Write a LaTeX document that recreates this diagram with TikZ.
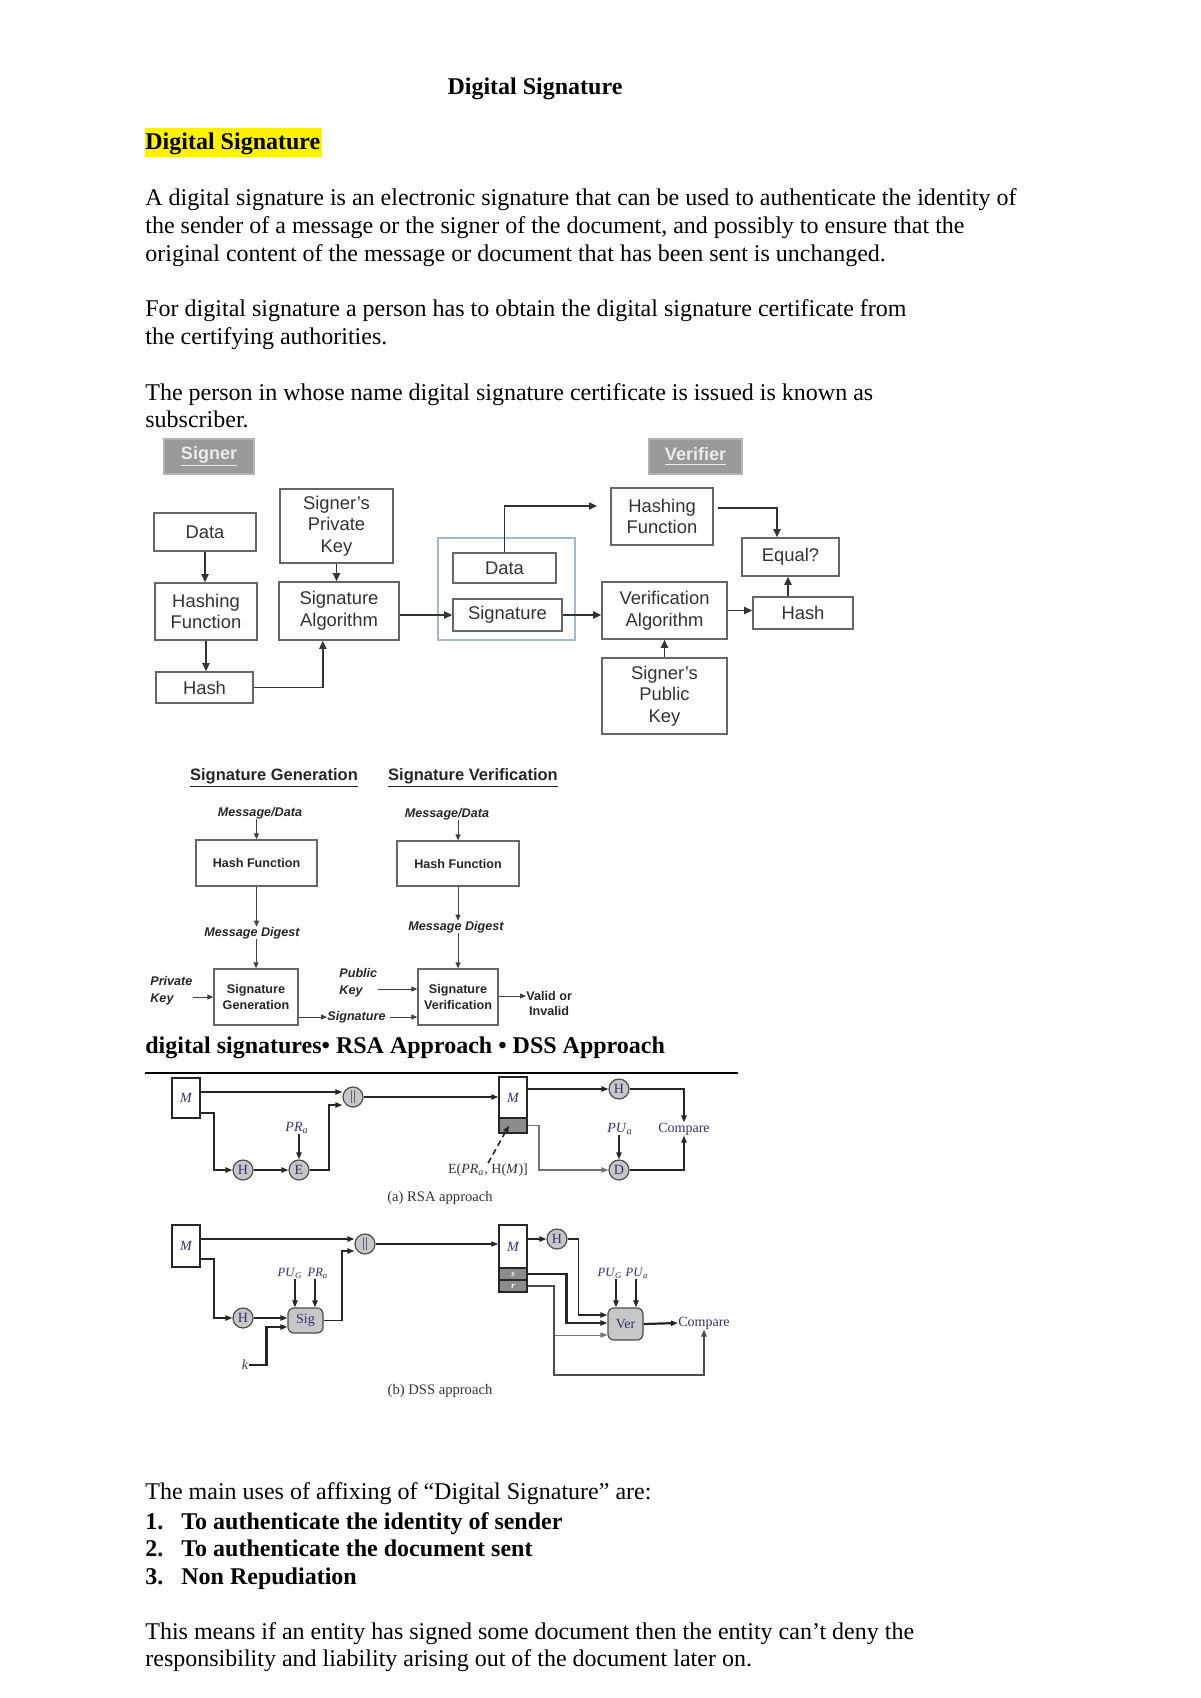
\documentclass[tikz,border=0pt]{standalone}
\usepackage{fontspec}
\setmainfont{Liberation Serif}
\setsansfont{Liberation Sans}
\usetikzlibrary{arrows.meta,calc}
\newcommand{\fs}[2]{\fontsize{#1}{#2}\selectfont}
\newcommand{\ksub}[2]{\textit{#1}\textsubscript{\textit{#2}}}
\definecolor{lblue}{RGB}{50,50,110}
\definecolor{cont}{RGB}{160,185,205}
\begin{document}
\begin{tikzpicture}[x=0.5pt,y=-0.5pt,
  body/.style={anchor=base west, inner sep=0pt, font=\fs{12}{14}},
  bodyb/.style={anchor=base west, inner sep=0pt, font=\fs{12}{14}\bfseries},
  dbox/.style={draw=black!60, line width=0.8pt, fill=white, font=\sffamily\fs{9.2}{10.8}, text=black!80, align=center, inner sep=0pt},
  dhead/.style={fill=black!40, draw=black!30, line width=0.6pt, font=\sffamily\bfseries\fs{9}{10}, text=black!8, inner sep=0pt},
  darr/.style={-{Triangle[length=4pt,width=3.6pt]}, line width=0.8pt, draw=black!80},
  sbox/.style={draw=black!60, line width=0.7pt, font=\sffamily\bfseries\fs{6.3}{8.3}, text=black!85, align=center, inner sep=0pt},
  slab/.style={font=\sffamily\bfseries\itshape\fs{6.3}{8.3}, text=black!85, inner sep=0pt},
  sarr/.style={-{Triangle[length=3pt,width=2.5pt]}, line width=0.5pt, draw=black!75},
  rbox/.style={draw=black!85, line width=0.7pt, fill=white, inner sep=0pt, font=\fs{7}{8}\itshape, text=lblue},
  rcirc/.style={circle, draw=black!70, line width=0.6pt, fill=black!22, inner sep=0pt, minimum size=10pt, font=\fs{7}{8}, text=lblue},
  rsq/.style={rectangle, rounded corners=3pt, draw=black!70, line width=0.6pt, fill=black!22, inner sep=0pt, font=\fs{7}{8}, text=lblue},
  rlab/.style={inner sep=0pt, font=\fs{7}{8}, text=lblue},
  klab/.style={inner sep=0pt, font=\fs{6.3}{8}, text=lblue},
  rarr/.style={-{Triangle[length=3.5pt,width=2.6pt]}, line width=0.8pt, draw=black!85},
]
\useasboundingbox (0,0) rectangle (1200,1698);
\fill[white] (0,0) rectangle (1200,1698);

% ---------- text top ----------
\node[font=\fs{12}{14}\bfseries, anchor=base, inner sep=0pt] (title) at (535,94) {Digital Signature};
\fill[yellow] (145,128) rectangle (322,157);
\node[bodyb] (head) at (145,149) {Digital Signature};
\node[body] (p1a) at (145,205) {A digital signature is an electronic signature that can be used to authenticate the identity of};
\node[body] (p1b) at (145,233) {the sender of a message or the signer of the document, and possibly to ensure that the};
\node[body] (p1c) at (145,261) {original content of the message or document that has been sent is unchanged.};
\node[body] (p2a) at (145,316) {For digital signature a person has to obtain the digital signature certificate from};
\node[body] (p2b) at (145,344) {the certifying authorities.};
\node[body] (p3a) at (145,400) {The person in whose name digital signature certificate is issued is known as};
\node[body] (p3b) at (145,427) {subscriber.};

% ---------- diagram 1 ----------
\node[dhead, minimum width=45pt, minimum height=17.5pt] (signer) at (209,456.5) {\underline{Signer}};
\node[dhead, minimum width=46.5pt, minimum height=17.5pt] (verifier) at (695.5,456.5) {\underline{Verifier}};
\node[dbox, minimum width=51pt, minimum height=19pt] (data1) at (205,532) {Data};
\node[dbox, minimum width=51pt, minimum height=28.5pt] (hf1) at (206,611.5) {Hashing\\Function};
\node[dbox, minimum width=48.5pt, minimum height=15.5pt] (hs1) at (204.5,687.5) {Hash};
\node[dbox, minimum width=56.5pt, minimum height=37pt] (pk) at (336.5,526) {Signer's\\Private\\Key};
\node[dbox, minimum width=60pt, minimum height=29pt] (sa) at (339,611) {Signature\\Algorithm};
\node[draw=cont, line width=0.8pt, minimum width=68.5pt, minimum height=51pt, inner sep=0pt] (cont) at (506.5,589) {};
\node[dbox, minimum width=51.5pt, minimum height=15pt] (data2) at (504.5,568) {Data};
\node[dbox, minimum width=54.5pt, minimum height=16pt] (sig2) at (507.5,615) {Signature};
\node[dbox, minimum width=51pt, minimum height=28.5pt] (hf2) at (662,516.5) {Hashing\\Function};
\node[dbox, minimum width=48.5pt, minimum height=19pt] (eq) at (790.5,557) {Equal?};
\node[dbox, minimum width=62.5pt, minimum height=28.5pt] (va) at (664.5,610.5) {Verification\\Algorithm};
\node[dbox, minimum width=50pt, minimum height=16pt] (hs2) at (803,613) {Hash};
\node[dbox, minimum width=62.5pt, minimum height=38pt] (pub) at (664.5,696) {Signer's\\Public\\Key};

\draw[darr] (data1.south) -- (data1.south |- hf1.north);
\draw[darr] (hf1.south) -- (hf1.south |- hs1.north);
\draw[darr] (hs1.east) -| ($(sa.south west)!0.367!(sa.south east)$);
\draw[darr] (pk.south) -- (pk.south |- sa.north);
\draw[darr] (sig2.west -| sa.east) -- (sig2.west);
\coordinate (d2end) at (597,506);
\draw[darr] (data2.north) |- (d2end);
\draw[darr] (sig2.east) -- (sig2.east -| va.west);
\draw[darr] ($(hf2.east)+(4,-8.5)$) -| ($(eq.north)+(-13.5,0)$);
\draw[darr] (va.east) -- (va.east -| hs2.west);
\coordinate (h2top) at ($(hs2.north)+(-15,0)$);
\draw[darr] (h2top) -- (h2top |- eq.south);
\draw[darr] (pub.north) -- (pub.north |- va.south);

% ---------- diagram 2 ----------
\node[font=\sffamily\bfseries\fs{8.25}{10}, text=black!85, inner sep=0pt] (sgh) at (274,778) {\underline{Signature Generation}};
\node[font=\sffamily\bfseries\fs{8.25}{10}, text=black!85, inner sep=0pt] (svh) at (473,778) {\underline{Signature Verification}};
\node[slab] (m1) at (260,813) {Message/Data};
\node[sbox, minimum width=60.5pt, minimum height=23pt] (sh1) at (256.5,863) {Hash Function};
\node[slab] (md1) at (252,933) {Message Digest};
\node[sbox, minimum width=42pt, minimum height=28pt] (sg) at (256,997) {Signature\\Generation};
\node[slab, align=left, anchor=west] (pkl) at (150,991) {Private\\Key};
\node[slab, anchor=west] (sgt) at (327,1017) {Signature};
\node[slab] (m2) at (447,814) {Message/Data};
\node[sbox, minimum width=61pt, minimum height=22.5pt] (sh2) at (458,863.5) {Hash Function};
\node[slab] (md2) at (456,927) {Message Digest};
\node[sbox, minimum width=40pt, minimum height=28pt] (sv) at (458,997) {Signature\\Verification};
\node[slab, align=left, anchor=west] (pbl) at (339,983) {Public\\Key};
\node[font=\sffamily\bfseries\fs{6.3}{7.5}, text=black!85, inner sep=0pt, align=center, anchor=west] (vl) at (526,1003) {Valid or\\Invalid};

\draw[sarr] (sh1.north |- m1.south) -- (sh1.north);
\draw[sarr] (sh1.south) -- (sh1.south |- md1.north);
\draw[sarr] (md1.south -| sg.north) -- (sg.north);
\draw[sarr] (pkl.east |- sg.west) -- (sg.west);
\draw[sarr] (sg.east |- sgt.west) -- (sgt.west);
\coordinate (sv1) at ($(sv.west)+(0,-8)$);
\coordinate (sv2) at ($(sv.west)+(0,20)$);
\draw[sarr] (pbl.east |- sv1) -- (sv1);
\draw[sarr] ($(sgt.east |- sv2)+(4,0)$) -- (sv2);
\draw[sarr] (sh2.north |- m2.south) -- (sh2.north);
\draw[sarr] (sh2.south) -- (sh2.south |- md2.north);
\draw[sarr] (md2.south -| sv.north) -- (sv.north);
\coordinate (vlin) at ($(vl.west)+(0,-7)$);
\draw[sarr] (sv.east |- vlin) -- (vlin);

% ---------- heading + rule ----------
\node[bodyb] (dsh) at (145,1053) {digital signatures• RSA Approach • DSS Approach};
\draw[line width=0.9pt] (145,1073) -- (738,1073);

% ---------- RSA ----------
\node[rbox, minimum width=14pt, minimum height=20pt] (M1) at (186,1098) {M};
\node[rcirc] (c1) at (353,1097) {||};
\node[rcirc] (H1) at (243,1170) {H};
\node[rcirc] (E1) at (299,1170) {E};
\node[rlab] (pr1) at (297,1128) {\ksub{PR}{a}};
\node[rbox, minimum width=14pt, minimum height=20.5pt] (M2) at (513,1097.5) {M};
\node[rbox, fill=black!45, minimum width=14pt, minimum height=7.5pt] (G2) at (513,1125.5) {};
\node[rcirc] (H2) at (619,1089) {H};
\node[rcirc] (D2) at (619,1170) {D};
\node[rlab] (pu1) at (620,1129) {\ksub{PU}{a}};
\node[rlab] (cmp1) at (684,1129) {Compare};
\node[rlab, text=black!80] (el) at (488,1170) {E(\ksub{PR}{a}, H(\textit{M})]};
\node[rlab, text=black!80, font=\fs{7.3}{8}] (cap1) at (440,1198) {(a) RSA approach};

\coordinate (m1a) at ($(M1.east)+(0,-6)$);
\draw[rarr] (m1a) -- (m1a -| c1.west);
\coordinate (m1b) at ($(M1.east)+(0,15)$);
\draw[rarr] (m1b) -- ++(13,0) |- (H1.west);
\draw[rarr] (H1.east) -- (E1.west);
\draw[rarr] (pr1.south -| E1.north) -- (E1.north);
\draw[rarr] (E1.east) -| (329,1105) -- (c1.west |- 0,1105);
\draw[rarr] (c1.east) -- (c1.east -| M2.west);
\draw[rarr, dash pattern=on 3pt off 2pt] (el.north) -- ($(G2.center)+(-4,0)$);
\coordinate (m2a) at ($(M2.east)+(0,-8.5)$);
\draw[rarr] (m2a) -- (m2a -| H2.west);
\draw[rarr] (H2.east) -| (cmp1.north);
\draw[rarr] (pu1.south -| D2.north) -- (D2.north);
\draw[rarr, draw=black!55] (G2.east) -- ++(11,0) |- (D2.west);
\draw[rarr] (D2.east) -| (cmp1.south);

% ---------- DSS ----------
\node[rbox, minimum width=14pt, minimum height=21pt] (M3) at (186,1246) {M};
\node[rcirc] (c2) at (365,1244) {||};
\node[rcirc] (H3) at (243,1318) {H};
\node[rsq, minimum width=17.5pt, minimum height=12.5pt] (Sg) at (305.5,1320.5) {Sig};
\node[klab] (pug1) at (290,1273) {\ksub{PU}{G}};
\node[klab] (pra1) at (318,1273) {\ksub{PR}{a}};
\node[rlab] (kl) at (245,1365) {\textit{k}};
\node[rbox, minimum width=14pt, minimum height=21.5pt] (M4) at (513,1246.5) {M};
\node[rbox, fill=black!45, minimum width=14pt, minimum height=6pt, font=\fs{4.5}{5}\itshape\bfseries, text=white] (S4) at (513,1274) {s};
\node[rbox, fill=black!45, minimum width=14pt, minimum height=6pt, font=\fs{4.5}{5}\itshape\bfseries, text=white] (R4) at (513,1286) {r};
\node[rcirc] (H4) at (557,1239) {H};
\node[rsq, minimum width=17.5pt, minimum height=16pt] (Vr) at (625.5,1324) {Ver};
\node[klab] (pug2) at (610,1273) {\ksub{PU}{G}};
\node[klab] (pua2) at (637,1273) {\ksub{PU}{a}};
\node[rlab] (cmp2) at (704,1323) {Compare};
\node[rlab, text=black!80, font=\fs{7.3}{8}] (cap2) at (440,1391) {(b) DSS approach};

\coordinate (m3a) at ($(M3.east)+(0,-7)$);
\draw[rarr] (m3a) -- (m3a -| c2.west);
\coordinate (m3b) at ($(M3.east)+(0,13)$);
\draw[rarr] (m3b) -- ++(13,0) |- (H3.west);
\draw[rarr] (H3.east) -- (H3.east -| Sg.west);
\coordinate (kin) at ($(Sg.west)+(0,6.5)$);
\draw[rarr, line width=1.1pt] (kl.east) -| ($(kin)+(-21,0)$) -- (kin);
\coordinate (sgin1) at ($(Sg.north)+(-10.5,0)$);
\coordinate (sgin2) at ($(Sg.north)+(9.5,0)$);
\draw[rarr, line width=1.1pt] (sgin1 |- pug1.south) -- (sgin1);
\draw[rarr] (sgin2 |- pra1.south) -- (sgin2);
\draw[rarr] (Sg.east) -| (342,1251) -- (c2.west |- 0,1251);
\draw[rarr] (c2.east) -- (c2.east -| M4.west);
\coordinate (m4a) at ($(M4.east)+(0,-7.5)$);
\draw[rarr] (m4a) -- (m4a -| H4.west);
\coordinate (vin1) at ($(Vr.west)+(0,-9)$);
\draw[rarr] (H4.east) -| ($(vin1)+(-29,0)$) -- (vin1);
\coordinate (vin2) at ($(Vr.west)+(0,-1)$);
\draw[rarr, line width=1.1pt] (S4.east) -| ($(vin2)+(-41,0)$) -- (vin2);
\coordinate (rbr) at ($(R4.east)+(26,49)$);
\coordinate (vin3) at ($(Vr.west)+(0,11)$);
\draw[rarr, draw=black!55, line width=0.5pt] (rbr) -- (vin3);
\draw[rarr, line width=1.1pt, draw=black!70] (R4.east) -- ++(26,0) -- ++(0,89) -| (cmp2.south);
\draw[rarr, line width=1.1pt] (Vr.east) -- (cmp2.west);
\coordinate (vrin1) at ($(Vr.north)+(-9.5,0)$);
\coordinate (vrin2) at ($(Vr.north)+(10.5,0)$);
\draw[rarr, line width=1.1pt] (vrin1 |- pug2.south) -- (vrin1);
\draw[rarr, line width=1.1pt] (vrin2 |- pua2.south) -- (vrin2);

% ---------- text bottom ----------
\node[body] (u0) at (145,1499) {The main uses of affixing of “Digital Signature” are:};
\node[bodyb] (n1) at (145,1529) {1.};
\node[bodyb] (u1) at (181,1529) {To authenticate the identity of sender};
\node[bodyb] (n2) at (145,1556) {2.};
\node[bodyb] (u2) at (181,1556) {To authenticate the document sent};
\node[bodyb] (n3) at (145,1584) {3.};
\node[bodyb] (u3) at (181,1584) {Non Repudiation};
\node[body] (q1) at (145,1639) {This means if an entity has signed some document then the entity can’t deny the};
\node[body] (q2) at (145,1666) {responsibility and liability arising out of the document later on.};
\end{tikzpicture}
\end{document}
